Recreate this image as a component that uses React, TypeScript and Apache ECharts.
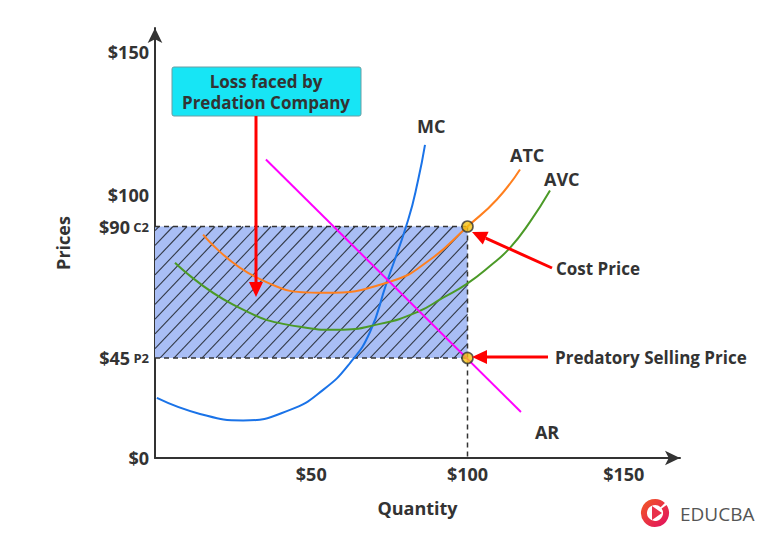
import React, { useEffect, useRef } from "react";
import * as echarts from "echarts";

// Axis ranges (axis units; price axis of the reference is schematic, so ticks sit at drawn positions)
const xAxisMax = 168;
const yAxisMax = 159;
const xTickValues = [50, 100, 150];
const xTickLabels = ["$50", "$100", "$150"];
const yTickValues = [0, 37, 85.6, 97.4, 150];
const yTickLabels = ["$0", "$45", "$90", "$100", "$150"];
const yTickSuffix = ["", "P2", "C2", "", ""];

// Key levels
const qPredatory = 100;
const priceP2 = 37; // $45 level
const priceC2 = 85.6; // $90 level

// Curves [quantity, price]
const mcData = [
  [0.6, 22.2], [14.4, 16.3], [28.2, 13.9], [43.2, 17.8], [53.8, 25.2], [62.4, 35.1],
  [68.8, 46.6], [73.9, 64.0], [81.0, 88.0], [84.2, 102.8], [86.4, 115.8],
];
const atcData = [
  [15.4, 82.6], [32.6, 66.7], [53.8, 61.1], [75.2, 65.2], [88.0, 73.3], [100, 85.6],
  [109.4, 95.6], [116.8, 106.7],
];
const avcData = [
  [6.4, 72.2], [25.0, 56.7], [46.4, 48.5], [58.2, 47.4], [72.0, 49.6], [84.0, 54.0],
  [92.2, 59.3], [99.8, 64.4], [107.2, 71.0], [113.6, 77.7], [120.0, 87.3], [126.4, 98.9],
];
const arData = [[35.5, 110.4], [117.1, 17.0]];
const keyPoints = [[qPredatory, priceC2], [qPredatory, priceP2]];
const lossRect = [[0, priceP2, qPredatory, priceC2]];

const FONT = "'Open Sans', 'Noto Sans', sans-serif";
const DARK = "#333333";
const WEIGHT = "bold";

function arrowHead(tx: number, ty: number, fx: number, fy: number, len = 15, half = 7) {
  const dx = tx - fx, dy = ty - fy;
  const l = Math.hypot(dx, dy);
  const ux = dx / l, uy = dy / l;
  const bx = tx - ux * len, by = ty - uy * len;
  const px = -uy * half, py = ux * half;
  return {
    shaft: [[fx, fy], [bx, by]],
    head: [[tx, ty], [bx + px, by + py], [bx - px, by - py]],
  };
}

function redArrow(tx: number, ty: number, fx: number, fy: number) {
  const a = arrowHead(tx, ty, fx, fy);
  return [
    {
      type: "polyline",
      shape: { points: a.shaft },
      style: { stroke: "#ff0000", lineWidth: 3, fill: null },
      z: 20,
    },
    {
      type: "polygon",
      shape: { points: a.head },
      style: { fill: "#ff0000" },
      z: 20,
    },
  ];
}

function curveLabel(text: string, offset: number[]) {
  return {
    show: true,
    formatter: text,
    offset,
    fontFamily: FONT,
    fontSize: 18,
    fontWeight: WEIGHT,
    color: DARK,
  };
}

function noteText(text: string, x: number, y: number) {
  return {
    type: "text",
    x,
    y,
    z: 21,
    style: {
      text,
      fontFamily: FONT,
      fontSize: 17,
      fontWeight: WEIGHT,
      fill: DARK,
      align: "left",
      textAlign: "left",
      verticalAlign: "middle",
      textVerticalAlign: "middle",
    },
  };
}

export default function App() {
  const ref = useRef<HTMLDivElement>(null);

  useEffect(() => {
    if (!ref.current) return;
    const chart = echarts.init(ref.current, null, { renderer: "svg" });

    const option: any = {
      animation: false,
      backgroundColor: "#ffffff",
      grid: { left: 155, right: 88, top: 28, bottom: 78, outerBoundsMode: "none", containLabel: false },
      xAxis: {
        type: "value",
        min: 0,
        max: xAxisMax,
        name: "Quantity",
        nameLocation: "middle",
        nameGap: 41,
        nameTextStyle: { fontFamily: FONT, fontSize: 18, fontWeight: WEIGHT, color: DARK },
        axisLine: {
          show: true,
          symbol: ["none", "arrow"],
          symbolSize: [11, 15],
          lineStyle: { color: DARK, width: 2 },
        },
        axisTick: { show: false },
        splitLine: { show: false },
        axisLabel: {
          customValues: xTickValues,
          margin: 7,
          fontFamily: FONT,
          fontSize: 18,
          fontWeight: WEIGHT,
          color: DARK,
          formatter: (v: number) => {
            const i = xTickValues.indexOf(v);
            return i >= 0 ? xTickLabels[i] : "";
          },
        },
      },
      yAxis: {
        type: "value",
        min: 0,
        max: yAxisMax,
        name: "Prices",
        nameLocation: "middle",
        nameGap: 83,
        nameRotate: 90,
        nameTextStyle: { fontFamily: FONT, fontSize: 18, fontWeight: WEIGHT, color: DARK },
        axisLine: {
          show: true,
          symbol: ["none", "arrow"],
          symbolSize: [11, 15],
          lineStyle: { color: DARK, width: 2 },
        },
        axisTick: { show: false },
        splitLine: { show: false },
        axisLabel: {
          customValues: yTickValues,
          margin: 6,
          color: DARK,
          formatter: (v: number) => {
            let i = -1;
            yTickValues.forEach((t, k) => {
              if (Math.abs(t - v) < 0.01) i = k;
            });
            if (i < 0) return "";
            return yTickSuffix[i]
              ? `{m|${yTickLabels[i]}} {s|${yTickSuffix[i]}}`
              : `{m|${yTickLabels[i]}}`;
          },
          rich: {
            m: { fontFamily: FONT, fontSize: 18, fontWeight: WEIGHT, color: DARK },
            s: { fontFamily: FONT, fontSize: 13, fontWeight: WEIGHT, color: DARK },
          },
        },
      },
      series: [
        {
          type: "custom",
          name: "Loss",
          clip: false,
          z: 1,
          data: lossRect,
          renderItem: (params: any, api: any) => {
            const tl = api.coord([api.value(0), api.value(3)]);
            const br = api.coord([api.value(2), api.value(1)]);
            const base = api.coord([api.value(2), 0]);
            const xl = tl[0], yt = tl[1], xr = br[0], yb = br[1];
            const H = yb - yt;
            const s = 0.95;
            const step = 14;
            const children: any[] = [
              {
                type: "rect",
                shape: { x: xl, y: yt, width: xr - xl, height: H },
                style: { fill: "#a9bef5" },
              },
            ];
            for (let c = xl - H * s + 4; c < xr; c += step) {
              const t0 = Math.max(0, (xl - c) / (H * s));
              const t1 = Math.min(1, (xr - c) / (H * s));
              if (t1 <= t0) continue;
              children.push({
                type: "line",
                shape: {
                  x1: c + t0 * H * s,
                  y1: yb - t0 * H,
                  x2: c + t1 * H * s,
                  y2: yb - t1 * H,
                },
                style: { stroke: "#333a48", lineWidth: 1.1 },
              });
            }
            const dash = { stroke: DARK, lineWidth: 1.5, lineDash: [5, 4] };
            children.push(
              { type: "line", shape: { x1: xl, y1: yt, x2: xr, y2: yt }, style: dash },
              { type: "line", shape: { x1: xl, y1: yb, x2: xr, y2: yb }, style: dash },
              { type: "line", shape: { x1: xr, y1: yt, x2: xr, y2: base[1] }, style: dash }
            );
            return { type: "group", children };
          },
        },
        {
          type: "line",
          name: "MC",
          data: mcData,
          smooth: 0.5,
          showSymbol: false,
          z: 5,
          lineStyle: { color: "#1a73e8", width: 2 },
          itemStyle: { color: "#1a73e8" },
          endLabel: curveLabel("MC", [-16, -19]),
        },
        {
          type: "line",
          name: "ATC",
          data: atcData,
          smooth: 0.5,
          showSymbol: false,
          z: 5,
          lineStyle: { color: "#ff7f1e", width: 2 },
          itemStyle: { color: "#ff7f1e" },
          endLabel: curveLabel("ATC", [-18, -14]),
        },
        {
          type: "line",
          name: "AVC",
          data: avcData,
          smooth: 0.5,
          showSymbol: false,
          z: 5,
          lineStyle: { color: "#4b9a27", width: 2 },
          itemStyle: { color: "#4b9a27" },
          endLabel: curveLabel("AVC", [-14, -12]),
        },
        {
          type: "line",
          name: "AR",
          data: arData,
          showSymbol: false,
          z: 5,
          lineStyle: { color: "#ff00ff", width: 2 },
          itemStyle: { color: "#ff00ff" },
          endLabel: curveLabel("AR", [6, 20]),
        },
        {
          type: "scatter",
          name: "Key points",
          data: keyPoints,
          symbolSize: 11,
          z: 10,
          itemStyle: { color: "#f5c211", borderColor: DARK, borderWidth: 1.6 },
        },
      ],
      graphic: [
        {
          type: "rect",
          shape: { x: 172, y: 67, width: 189, height: 49, r: 2 },
          style: { fill: "#17e5f5", stroke: "#6b9ea3", lineWidth: 1 },
          z: 20,
        },
        {
          type: "text",
          x: 266,
          y: 92,
          z: 21,
          style: {
            text: "Loss faced by\nPredation Company",
            fontFamily: FONT,
            fontSize: 17,
            fontWeight: WEIGHT,
            fill: DARK,
            align: "center",
            textAlign: "center",
            verticalAlign: "middle",
            textVerticalAlign: "middle",
            lineHeight: 21,
          },
        },
        ...redArrow(256, 297, 256, 116),
        ...redArrow(472, 232, 552, 268),
        ...redArrow(472, 357, 548, 357),
        noteText("Cost Price", 556, 268),
        noteText("Predatory Selling Price", 555, 357),
        // EDUCBA logo
        {
          type: "arc",
          shape: { cx: 655, cy: 513, r: 11, startAngle: -0.6, endAngle: Math.PI * 1.75, clockwise: true },
          style: {
            stroke: new echarts.graphic.LinearGradient(0, 0, 1, 1, [
              { offset: 0, color: "#f0522a" },
              { offset: 1, color: "#e3165b" },
            ]),
            lineWidth: 6,
            fill: null,
          },
          z: 20,
        },
        {
          type: "polygon",
          shape: { points: [[652, 506], [652, 520], [662, 513]] },
          style: { fill: "#e9304a" },
          z: 20,
        },
        {
          type: "text",
          x: 680,
          y: 514,
          z: 21,
          style: {
            text: "EDUCBA",
            fontFamily: FONT,
            fontSize: 19,
            fill: "#555555",
            align: "left",
            textAlign: "left",
            verticalAlign: "middle",
            textVerticalAlign: "middle",
          },
        },
      ],
    };

    chart.setOption(option);
    return () => chart.dispose();
  }, []);

  return <div ref={ref} style={{ width: 768, height: 536, margin: -8 }} />;
}
